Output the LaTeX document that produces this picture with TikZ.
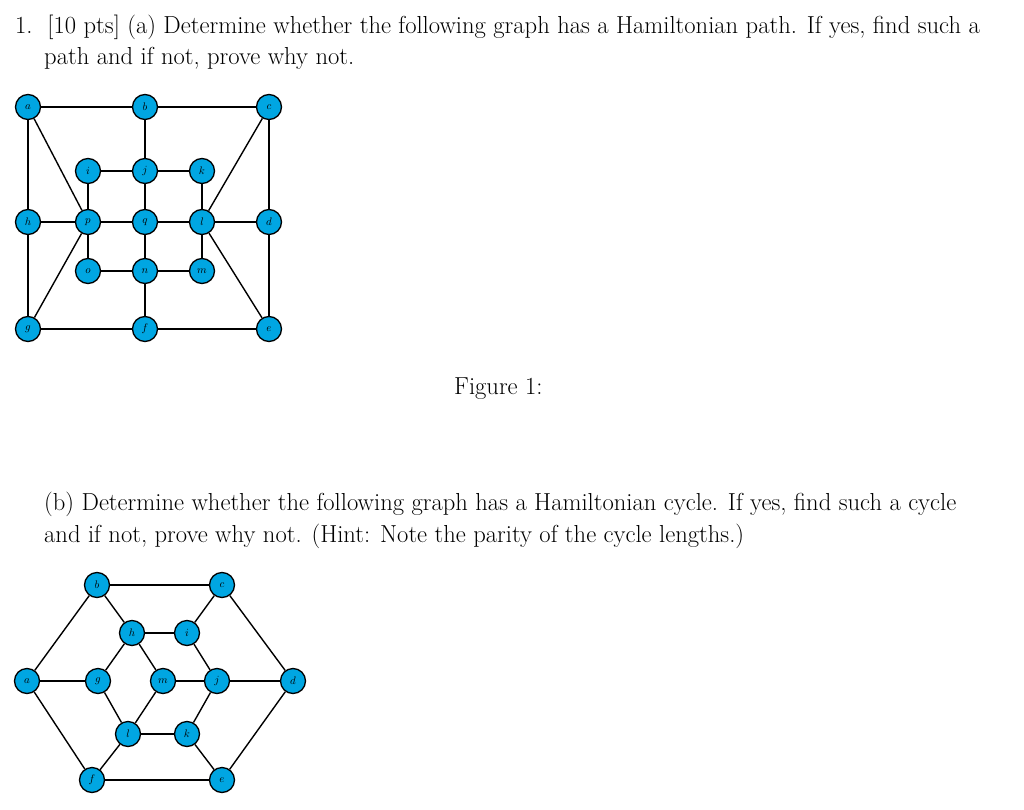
\documentclass[tikz,border=0pt]{standalone}
\begin{document}
\begin{tikzpicture}[x=1pt,y=-1pt,
  v/.style={circle,draw=black,line width=1.3pt,fill={rgb,255:red,0;green,166;blue,226},minimum size=25pt,inner sep=0pt,font=\fontsize{11}{11}\selectfont},
  e/.style={line width=1.4pt},
  txt/.style={anchor=base west,inner sep=0pt,font=\fontsize{24.6}{28}\selectfont}]
\useasboundingbox (0,0) rectangle (1024,810);
\node[txt] (t1) at (15,34) {1.\ \ [10 pts] (a) Determine whether the following graph has a Hamiltonian path. If yes, find such a};
\node[txt] (t2) at (44,65) {path and if not, prove why not.};
\node[txt] (fig) at (454,394) {Figure 1:};
\node[txt] (t3) at (44,510) {(b) Determine whether the following graph has a Hamiltonian cycle. If yes, find such a cycle};
\node[txt] (t4) at (44,542) {and if not, prove why not. (Hint: Note the parity of the cycle lengths.)};
% graph 1
\foreach \n/\x/\y in {a/28/107,b/145/107,c/269/107,i/88/171,j/145/171,k/202/171,h/28/222,p/88/222,q/145/222,l/202/222,d/269/222,o/88/271,n/145/271,m/202/271,g/28/329,f/145/329,e/269/329}
  \node[v] (A\n) at (\x,\y) {$\n$};
\foreach \u/\w in {a/b,b/c,a/h,h/g,g/f,f/e,c/d,d/e,a/p,c/l,g/p,e/l,b/j,i/j,j/k,i/p,j/q,k/l,h/p,p/q,q/l,l/d,p/o,o/n,n/m,m/l,q/n,n/f}
  \draw[e] (A\u) -- (A\w);
% graph 2
\foreach \n/\x/\y in {b/97/585,c/222/585,h/132/633,i/187/633,a/27/681,g/98/681,m/163/681,j/217/681,d/293/681,l/128/734,k/187/734,f/92/780,e/222/780}
  \node[v] (B\n) at (\x,\y) {$\n$};
\foreach \u/\w in {a/b,b/c,c/d,d/e,e/f,f/a,a/g,b/h,c/i,h/i,h/g,h/m,i/j,g/l,m/l,m/j,j/d,j/k,l/k,l/f,k/e}
  \draw[e] (B\u) -- (B\w);
\end{tikzpicture}
\end{document}
